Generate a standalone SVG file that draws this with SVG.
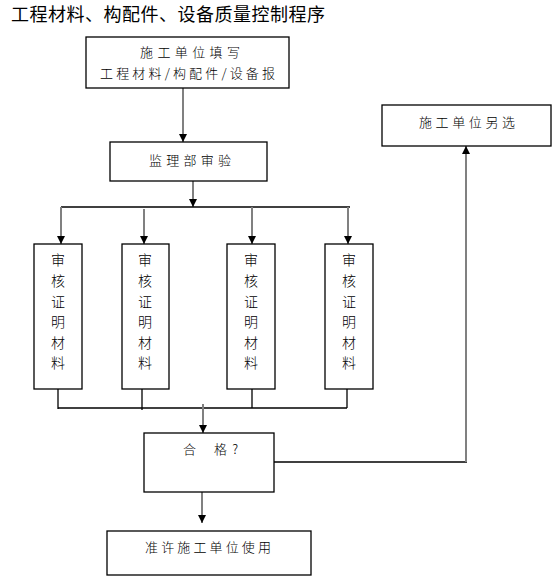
<svg xmlns="http://www.w3.org/2000/svg" width="557" height="585" viewBox="0 0 557 585">
<style>
.box{fill:#fff;stroke:#000;stroke-width:1.3}
.t{font-family:"Noto Sans CJK SC","Noto Sans CJK JP",sans-serif;font-size:13px;font-weight:300;fill:#000}
.v{font-family:"Noto Sans CJK SC","Noto Sans CJK JP",sans-serif;font-size:14px;font-weight:300;fill:#000;text-anchor:middle}
.arr{stroke:#808080;stroke-width:2;fill:none;marker-end:url(#ah)}
.ln{stroke:#000;stroke-width:1.3;fill:none}
</style>
<defs>
<marker id="ah" markerUnits="userSpaceOnUse" markerWidth="9" markerHeight="9" refX="8" refY="4.5" orient="auto">
<path d="M0,0.5 L8,4.5 L0,8.5 z" fill="#000"/>
</marker>
</defs>
<rect width="557" height="585" fill="#fff"/>
<text x="11" y="21" font-family="Noto Sans CJK SC,sans-serif" font-size="18" textLength="314" lengthAdjust="spacing">工程材料、构配件、设备质量控制程序</text>

<g id="connectors">
<line class="arr" x1="183" y1="88" x2="183" y2="142"/>
<line class="arr" x1="193" y1="181" x2="193" y2="207"/>
<line class="ln" x1="61" y1="207" x2="350" y2="207"/>
<line class="arr" x1="61" y1="207" x2="61" y2="244"/>
<line class="arr" x1="144" y1="209" x2="144" y2="244"/>
<line class="arr" x1="252" y1="207" x2="252" y2="244"/>
<line class="arr" x1="348" y1="207" x2="348" y2="244"/>
<line class="ln" x1="58" y1="389" x2="58" y2="409"/>
<line class="ln" x1="142" y1="389" x2="142" y2="410"/>
<line class="ln" x1="252" y1="389" x2="252" y2="408"/>
<line class="ln" x1="347" y1="389" x2="347" y2="408"/>
<line class="ln" x1="58" y1="408" x2="347" y2="408"/>
<line class="arr" x1="203" y1="404" x2="203" y2="433"/>
<line class="arr" x1="202" y1="492" x2="202" y2="523"/>
<line class="ln" x1="274" y1="462" x2="467" y2="462"/>
<line class="arr" x1="466" y1="462" x2="466" y2="146"/>
</g>

<g id="n1">
<rect class="box" x="86" y="37" width="203" height="51"/>
<text class="t" x="140" y="57" textLength="100" lengthAdjust="spacing">施工单位填写</text>
<text class="t" x="100" y="78" textLength="175" lengthAdjust="spacing">工程材料/构配件/设备报</text>
</g>
<g id="n2">
<rect class="box" x="110" y="142" width="157" height="39"/>
<text class="t" x="149" y="165" textLength="82" lengthAdjust="spacing">监理部审验</text>
</g>
<g id="nA">
<rect class="box" x="34" y="244" width="48" height="145"/>
<text class="v" x="58" y="265">审</text><text class="v" x="58" y="286">核</text><text class="v" x="58" y="307">证</text><text class="v" x="58" y="327">明</text><text class="v" x="58" y="348">材</text><text class="v" x="58" y="368">料</text>
</g>
<g id="nB">
<rect class="box" x="122" y="244" width="47" height="145"/>
<text class="v" x="145" y="265">审</text><text class="v" x="145" y="286">核</text><text class="v" x="145" y="307">证</text><text class="v" x="145" y="327">明</text><text class="v" x="145" y="348">材</text><text class="v" x="145" y="368">料</text>
</g>
<g id="nC">
<rect class="box" x="227" y="244" width="48" height="145"/>
<text class="v" x="251" y="265">审</text><text class="v" x="251" y="286">核</text><text class="v" x="251" y="307">证</text><text class="v" x="251" y="327">明</text><text class="v" x="251" y="348">材</text><text class="v" x="251" y="368">料</text>
</g>
<g id="nD">
<rect class="box" x="325" y="244" width="48" height="145"/>
<text class="v" x="349" y="265">审</text><text class="v" x="349" y="286">核</text><text class="v" x="349" y="307">证</text><text class="v" x="349" y="327">明</text><text class="v" x="349" y="348">材</text><text class="v" x="349" y="368">料</text>
</g>
<g id="n3">
<rect class="box" x="144" y="433" width="130" height="59"/>
<text class="t" x="183" y="454">合</text>
<text class="t" x="214" y="454" textLength="24" lengthAdjust="spacing">格?</text>
</g>
<g id="n4">
<rect class="box" x="382" y="105" width="169" height="41"/>
<text class="t" x="419" y="127" textLength="96" lengthAdjust="spacing">施工单位另选</text>
</g>
<g id="n5">
<rect class="box" x="107" y="531" width="204" height="44"/>
<text class="t" x="145" y="552" textLength="126" lengthAdjust="spacing">准许施工单位使用</text>
</g>
</svg>
